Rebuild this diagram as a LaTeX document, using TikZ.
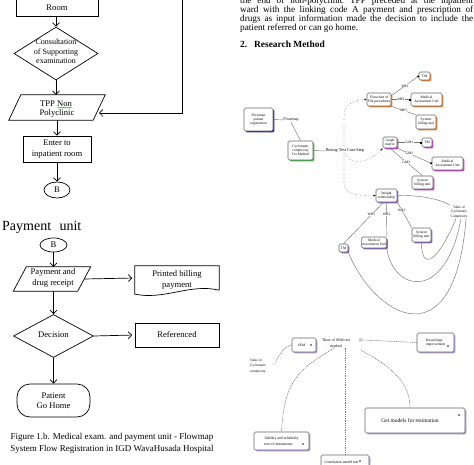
\documentclass[tikz,border=0pt]{standalone}
\usepackage{fontspec}
\setmainfont{Liberation Serif}
\usetikzlibrary{arrows.meta,shapes.geometric,shadows,decorations.pathmorphing}
\definecolor{mblue}{RGB}{40,40,150}
\definecolor{mgreen}{RGB}{70,185,70}
\definecolor{morange}{RGB}{230,130,50}
\definecolor{mmag}{RGB}{200,60,200}
\definecolor{mpurp}{RGB}{140,100,190}
\definecolor{mlav}{RGB}{170,150,210}
\def\fsz#1#2{\fontsize{#1}{#2}\selectfont}
\begin{document}
\begin{tikzpicture}[x=1pt,y=-1pt,
  fl/.style={line width=0.7pt},
  fc/.style={draw, line width=0.7pt, align=center, inner sep=0pt, font=\fsz{8.6}{11}},
  tx/.style={inner sep=0pt, align=center, font=\fsz{8.6}{10.5}},
  arr/.style={line width=0.7pt, -{Straight Barb[length=3.5pt,width=7pt]}},
  mm/.style={draw=black!60, line width=0.55pt, fill=white, rounded corners=1.5pt, inner sep=0.4pt, align=center, font=\fsz{3.6}{4.2}, drop shadow={shadow xshift=1.4pt, shadow yshift=-1.4pt, fill=#1, opacity=1}},
  lab/.style={inner sep=0.3pt, fill=white, align=center, font=\fsz{3.6}{4.2}},
  ml/.style={draw=black!55, line width=0.45pt},
  mt/.style={ml, -{Square[length=1.5pt,width=1.5pt,color=black]}},
  md/.style={draw=black!50, line width=0.6pt, dotted, -{Latex[length=2.2pt,width=2.2pt,color=black]}},
  mdash/.style={draw=black!55, line width=0.55pt, dash pattern=on 1pt off 0.8pt},
  icn/.style={fill=black!45, minimum width=2.2pt, minimum height=2.2pt, inner sep=0pt}
]
\useasboundingbox (0,0) rectangle (474,465);
\clip (0,0) rectangle (474,465);

% ---------------- left flowchart (top part) ----------------
\node[fc, minimum width=82pt, minimum height=27pt] (room) at (57,2.5) {};
\node[tx] (roomt) at (57,7.5) {Room};
\node[draw, diamond, fl, minimum width=84pt, minimum height=53pt, inner sep=0pt] (cons) at (56,53.5) {};
\node[tx, font=\fsz{8}{9.5}] (const) at (56,51.5) {Consultation\\of Supporting\\examination};
\node[minimum width=84pt, minimum height=25pt, inner sep=0pt] (tpp) at (57,107.5) {};
\draw[fl] ([xshift=6pt]tpp.north west) -- ([xshift=6pt]tpp.north east) -- ([xshift=-6pt]tpp.south east) -- ([xshift=-6pt]tpp.south west) -- cycle;
\node[tx] (tpp1) at (56,103.5) {TPP Non};
\node[tx] (tpp2) at (57,113.5) {Polyclinic};
\draw[green!55!black, line width=0.35pt, decorate, decoration={snake,amplitude=0.35pt,segment length=1.8pt}] ([xshift=-14.5pt,yshift=-1.5pt]tpp1.base east) -- ([yshift=-1.5pt]tpp1.base east);
\coordinate (rtop) at (182,-2);
\coordinate (rin) at (99,113);
\draw[arr] (rtop) |- (rin);
\draw[arr] (room.south -| cons.north) -- (cons.north);
\draw[arr] (cons.south) -- (tpp.north -| cons.south);
\node[fc, minimum width=68pt, minimum height=26pt] (enter) at (57,149) {Enter to\\inpatient room};
\draw[arr] (tpp.south -| enter.north) -- (enter.north);
\node[draw, ellipse, fl, minimum width=26pt, minimum height=16pt, inner sep=0pt, font=\fsz{8.6}{10}] (b1) at (57,190) {B};
\draw[arr] (enter.south) -- (b1.north);

% ---------------- payment unit ----------------
\node[anchor=base west, inner sep=0pt, font=\fsz{14}{16}] (punit) at (2,230.5) {Payment\hspace{0.6em}unit};
\node[draw, ellipse, fl, minimum width=27pt, minimum height=14pt, inner sep=0pt, font=\fsz{8.6}{10}] (b2) at (53.5,245) {B};
\node[minimum width=64pt, minimum height=24pt, inner sep=0pt] (pay) at (52,279) {};
\draw[fl] ([xshift=6.5pt]pay.north west) -- ([xshift=6.5pt]pay.north east) -- ([xshift=-6.5pt]pay.south east) -- ([xshift=-6.5pt]pay.south west) -- cycle;
\node[tx] (payt) at (53,278) {Payment and\\drug receipt};
\draw[arr] (b2.south) -- (pay.north -| b2.south);
\node[minimum width=84pt, minimum height=24pt, inner sep=0pt] (doc) at (177,278) {};
\draw[fl] (doc.south east) -- (doc.north east) -- (doc.north west) -- ([yshift=-4pt]doc.south west) .. controls +(30,6) and +(-29,-7) .. (doc.south east);
\node[tx, font=\fsz{8.6}{11}] (doct) at (177,279.5) {Printed billing\\payment};
\draw[arr, shorten >=2.5pt] (pay.east) -- (doc.west);
\node[draw, diamond, fl, minimum width=80pt, minimum height=43pt, inner sep=0pt] (dec) at (53.5,336) {};
\node[tx] (dect) at (53.5,335) {Decision};
\draw[arr] (pay.south -| dec.north) -- (dec.north);
\node[fc, minimum width=84pt, minimum height=24pt] (ref) at (177,335) {Referenced};
\draw[arr, shorten >=2.5pt] (dec.east) -- (ref.west);
\node[fc, rounded corners=13pt, minimum width=73pt, minimum height=33pt, font=\fsz{8.6}{10.5}] (home) at (53.5,400.5) {Patient\\Go Home};
\draw[arr] (dec.south) -- (home.north);
\node[tx, font=\fsz{9}{12}] (cap) at (112,443) {Figure 1.b. Medical exam. and payment unit - Flowmap\\System Flow Registration in IGD WavaHusada Hospital};

% ---------------- right column text ----------------
\node[anchor=base west, inner sep=0pt, font=\fsz{9.2}{9.2}] (t0) at (240,3.5) {\makebox[233pt][s]{the end of non-polyclinic TPP preceded at the inpatient}};
\node[anchor=base west, inner sep=0pt, font=\fsz{9.2}{9.2}] (t1) at (240,12.5) {\makebox[233pt][s]{ward with the linking code A payment and prescription of}};
\node[anchor=base west, inner sep=0pt, font=\fsz{9.2}{9.2}] (t2) at (240,21.7) {\makebox[233pt][s]{drugs as input information made the decision to include the}};
\node[anchor=base west, inner sep=0pt, font=\fsz{9.2}{9.2}] (t3) at (240,30.9) {patient referred or can go home.};
\node[anchor=base west, inner sep=0pt, font=\fsz{9.4}{10}\bfseries] (h1) at (240,47.5) {2.};
\node[anchor=base west, inner sep=0pt, font=\fsz{9.4}{10}\bfseries] (h2) at (254,47.5) {Research Method};

% ---------------- mind map 1 ----------------
\node[mm=mblue, minimum width=29pt, minimum height=23pt] (fpr) at (258.5,119.5) {Flowmap\\patient\\registration};
\node[lab, font=\fsz{4}{4.5}] (lfm) at (291,120) {Flowmap};
\draw[ml] (fpr.east) -- (lfm.west);
\node[mm=mgreen, minimum width=25pt, minimum height=19pt] (ccm) at (300.5,150.5) {Cyclomatic\\complexity\\Tes Method};
\draw[ml] (lfm.south) -- (ccm.north);

\node[mm=morange, minimum width=24pt, minimum height=13pt] (fpf) at (379,99.5) {Flowchart of\\File procedures};
\node[mm=morange, minimum width=11pt, minimum height=8pt] (tm1) at (424.5,76) {TM};
\node[mm=morange, minimum width=31pt, minimum height=13pt] (mau1) at (426.5,99.5) {Medical\\Assessment Unit};
\node[mm=morange, minimum width=20pt, minimum height=14pt] (sbu1) at (426,122) {System\\billing unit};
\draw[mt] ([yshift=-3pt]fpf.north east) -- node[lab]{MP1} (tm1.west);
\draw[mt] (fpf.east) -- node[lab]{MP2} (mau1.west);
\draw[ml] (fpf.south east) -- node[lab]{MP3} (sbu1.north west);

\node[mm=mmag, minimum width=14pt, minimum height=11pt] (gm) at (390,142.5) {Graph\\matrix};
\node[mm=mmag, minimum width=10pt, minimum height=9pt] (tm2) at (427,142.5) {TM};
\node[mm=mmag, minimum width=31pt, minimum height=13pt] (mau2) at (447.5,163.5) {Medical\\Assessment Unit};
\node[mm=mmag, minimum width=21pt, minimum height=13pt] (sbu2) at (422.5,182.5) {System\\billing unit};
\draw[mt] (gm.east) -- node[lab]{GM1} (tm2.west);
\draw[mt] (gm.south east) -- node[lab, pos=0.35]{GM2} (mau2.west);
\draw[ml] (gm.south) -- node[lab]{GM3} (sbu2.north);

\node[mm=mpurp, minimum width=21pt, minimum height=13pt] (wr) at (386.5,195.5) {Weight\\relationship};
\node[mm=mpurp, minimum width=9pt, minimum height=8pt] (tm3) at (343.5,248) {TM};
\node[mm=mpurp, minimum width=22pt, minimum height=11pt] (mau3) at (374,242.5) {Medical\\Assessment Unit};
\node[mm=mpurp, minimum width=19pt, minimum height=14pt] (sbu3) at (421.5,235) {System\\billing unit};
\draw[ml] ([xshift=-3pt]wr.south) -- node[lab, pos=0.3]{WR1} (tm3.north);
\draw[ml] (wr.south) -- node[lab, pos=0.35]{WR2} (mau3.north east);
\draw[ml] (wr.south east) -- node[lab, pos=0.3]{WR3} (sbu3.north west);
\node[inner sep=0.3pt, align=center, font=\fsz{3.5}{4.6}] (tbl) at (459,212) {Table of\\Cyclomatic\\Complexity};
\draw[ml] (wr.east) .. controls (420,195) and (440,199) .. (tbl.north west);
\draw[ml] (sbu3.south) .. controls (421,268) and (435,268) .. ([xshift=-3pt]tbl.south);
\draw[ml] (mau3.south east) .. controls (392,290) and (445,305) .. ([xshift=2pt]tbl.south);
\draw[ml] (tm3.south east) .. controls (375,318) and (455,362) .. ([xshift=7pt]tbl.south);

\coordinate (hub) at (344,151);
\draw[md] (hub) -- (344,117) .. controls (344,105) and (352,100) .. (fpf.west);
\draw[md] (hub) -- (344,183) .. controls (344,194) and (356,196) .. (wr.west);
\draw[md] (hub) .. controls (350,168) and (370,162) .. (gm.south west);
\node[lab, font=\fsz{4.3}{5}] (lbt) at (345,151) {Basing Test Case Step};
\draw[ml] (ccm.east) -- (lbt.west);

% ---------------- mind map 2 ----------------
\node[mm=mlav, minimum width=37pt, minimum height=19pt, align=left] (kn) at (435.5,342.5) {Knowledge\\improvement\hspace{3pt}};
\node[icn] (knic) at (448,346) {};
\node[inner sep=0.3pt, align=center, font=\fsz{3.8}{5.5}] (s3) at (336,343) {Three of SEM test\\method};
\node[inner sep=0.3pt, font=\fsz{4.5}{5}, text=black!60] (ati) at (361,340) {@};
\draw[mdash] (ati.east) -- (kn.west);
\node[mm=mlav, minimum width=24pt, minimum height=14pt] (sem) at (304,345) {SEM\hspace{5pt}};
\node[icn] (semic) at (311,345) {};
\node[inner sep=0.3pt, align=left, font=\fsz{3.5}{5.5}] (val) at (258,366) {Value of\\Cyclomatic\\complexity};
\node[inner sep=0.3pt, font=\fsz{4}{4}] (valic) at (274,365) {:};
\draw[mdash] (valic.north east) .. controls (279,354) and (284,347) .. (sem.west);
\node[mm=mlav, minimum width=55pt, minimum height=18pt, align=left, font=\fsz{3.8}{5.5}] (vr) at (281.5,441) {Validity and reliability\\test of instruments};
\node[icn] (vric) at (303,444) {};
\node[mm=mlav, minimum width=48pt, minimum height=14pt, font=\fsz{3.8}{4.5}] (cm) at (345,462) {Correlation model test\hspace{7pt}};
\node[icn] (cmic) at (360,461) {};
\node[mm=mlav, minimum width=100pt, minimum height=25pt, font=\fsz{5.5}{6}] (gmod) at (415,420.5) {Get models for estimation\hspace{10pt}};
\node[icn] (gmic) at (459,415) {};
\draw[mdash] ([xshift=-1pt]s3.south) .. controls (300,368) and (284,380) .. (vr.north);
\draw[mdash] (s3.south -| cm.north) -- (cm.north);
\draw[mdash] ([yshift=-8pt]ati.south) .. controls (395,368) and (410,385) .. ([xshift=-5pt]gmod.north);
\end{tikzpicture}
\end{document}
